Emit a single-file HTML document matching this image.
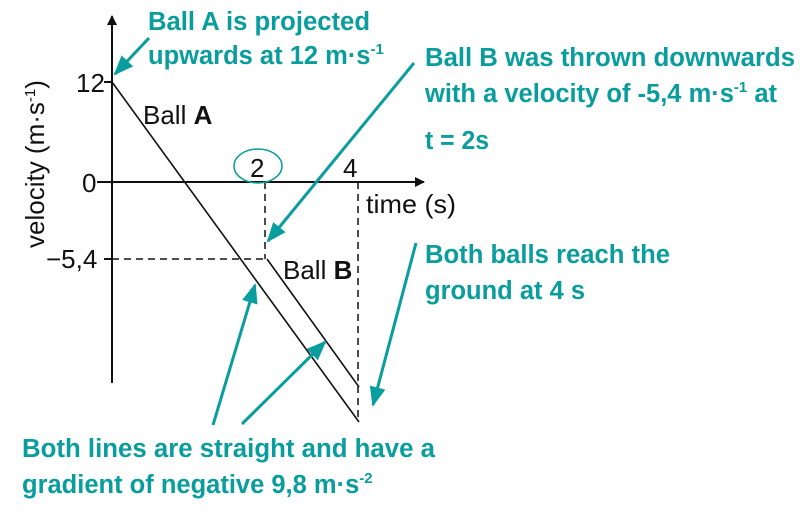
<!DOCTYPE html>
<html><head><style>
html,body{margin:0;padding:0;background:#fff;}
svg{display:block;}
.t{font-family:"Liberation Sans",Arial,sans-serif;font-weight:bold;font-size:25.5px;fill:#0a9d9d;}
.k{font-family:"Liberation Sans",Arial,sans-serif;font-size:26px;fill:#111;}
</style></head><body>
<svg width="809" height="513" viewBox="0 0 809 513" xmlns="http://www.w3.org/2000/svg">
<defs>
<marker id="ta" markerWidth="10" markerHeight="10" refX="9" refY="5" orient="auto" markerUnits="userSpaceOnUse"><path d="M0,0 L10,5 L0,10 z" fill="#111"/></marker>
<marker id="tc" markerWidth="20" markerHeight="16" refX="18" refY="8" orient="auto" markerUnits="userSpaceOnUse"><path d="M0,0 L20,8 L0,16 z" fill="#0a9d9d"/></marker>
</defs>
<line x1="112" y1="383" x2="112" y2="16" stroke="#111" stroke-width="2" marker-end="url(#ta)"/>
<line x1="97" y1="182" x2="424" y2="182" stroke="#111" stroke-width="2" marker-end="url(#ta)"/>
<line x1="104" y1="82" x2="112" y2="82" stroke="#111" stroke-width="2"/>
<line x1="104" y1="259" x2="112" y2="259" stroke="#111" stroke-width="2"/>
<g stroke="#111" stroke-width="1.5" stroke-dasharray="7,5" fill="none">
<line x1="112" y1="259" x2="266" y2="259"/>
<line x1="265" y1="182" x2="265" y2="259"/>
<line x1="358" y1="182" x2="358" y2="420"/>
</g>
<line x1="112" y1="82" x2="359" y2="422" stroke="#111" stroke-width="1.6"/>
<line x1="267" y1="259" x2="359" y2="387" stroke="#111" stroke-width="1.6"/>
<text class="k" x="76" y="92">12</text>
<text class="k" x="82" y="192">0</text>
<text class="k" x="46" y="268">−5,4</text>
<text class="k" x="250" y="177">2</text>
<text class="k" x="343" y="177">4</text>
<text class="k" x="366" y="213" textLength="90" lengthAdjust="spacingAndGlyphs">time (s)</text>
<text class="k" x="143" y="124">Ball <tspan font-weight="bold">A</tspan></text>
<text class="k" x="283" y="279">Ball <tspan font-weight="bold">B</tspan></text>
<text class="k" transform="translate(44,248) rotate(-90)">velocity (m·s<tspan font-size="15" dy="-9">-1</tspan><tspan dy="9">)</tspan></text>
<ellipse cx="258" cy="166" rx="24" ry="17" fill="none" stroke="#0a9d9d" stroke-width="1.5"/>
<g stroke="#0a9d9d" stroke-width="3" fill="none">
<line x1="149" y1="38" x2="115" y2="74" marker-end="url(#tc)"/>
<line x1="414" y1="63" x2="268" y2="241" marker-end="url(#tc)"/>
<line x1="416" y1="243" x2="373" y2="405" marker-end="url(#tc)"/>
<line x1="213" y1="425" x2="255" y2="285" marker-end="url(#tc)"/>
<line x1="242" y1="424" x2="325" y2="342" marker-end="url(#tc)"/>
</g>
<text class="t" x="148" y="30" textLength="222" lengthAdjust="spacingAndGlyphs">Ball A is projected</text>
<text class="t" x="148" y="64">upwards at 12 m·s<tspan font-size="15" dy="-10">-1</tspan></text>
<text class="t" x="425" y="66" textLength="370" lengthAdjust="spacingAndGlyphs">Ball B was thrown downwards</text>
<text class="t" x="425" y="102">with a velocity of -5,4 m·s<tspan font-size="15" dy="-10">-1</tspan><tspan dy="10"> at</tspan></text>
<text class="t" x="425" y="149" textLength="64" lengthAdjust="spacingAndGlyphs">t = 2s</text>
<text class="t" x="425" y="263" textLength="245" lengthAdjust="spacingAndGlyphs">Both balls reach the</text>
<text class="t" x="425" y="299" textLength="160" lengthAdjust="spacingAndGlyphs">ground at 4 s</text>
<text class="t" x="22" y="457" textLength="413" lengthAdjust="spacingAndGlyphs">Both lines are straight and have a</text>
<text class="t" x="22" y="493">gradient of negative 9,8 m·s<tspan font-size="15" dy="-10">-2</tspan></text>
</svg>
</body></html>
